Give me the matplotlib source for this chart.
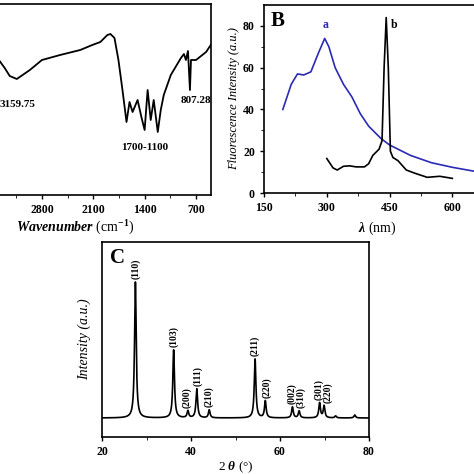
import numpy as np
import matplotlib
matplotlib.use("Agg")
import matplotlib.pyplot as plt

plt.rcParams['font.family'] = ['Liberation Serif', 'DejaVu Serif']
plt.rcParams['font.weight'] = 'bold'
plt.rcParams['mathtext.fontset'] = 'custom'
plt.rcParams['mathtext.rm'] = 'Liberation Serif:bold'
plt.rcParams['mathtext.bf'] = 'Liberation Serif:bold'
plt.rcParams['mathtext.it'] = 'Liberation Serif:italic:bold'

# Panel A: FTIR
ir_wn = [3377,3308,3239,3143,2965,2800,2553,2278,2114,2004,1908,1866,1811,1757,1702,1647,1606,1564,1496,1441,1400,1359,1317,1276,1221,1180,1139,1043,905,864,837,809,782,768,699,562,480]
ir_t = [139,132,124,121,130,140,145,150,155,158,165,166,162,140,110,78,98,88,100,82,70,110,80,100,68,90,105,125,142,146,140,149,110,140,140,148,157]

# Panel B: fluorescence
a_x = [195,215,230,245,262,280,295,305,320,340,360,380,400,430,450,500,550,600,650]
a_y = [40,52,57,56.5,58,67,74,70,60,52,46,38,32,26,23,18,14.5,12.3,10.5]
b_x = [300,315,325,340,355,370,390,400,410,425,432,437,442,447,452,458,470,490,510,540,570,600]
b_y = [16.5,12,11,12.8,13,12.5,12.5,14,18,21,25,60,84,60,20,17,15.5,11,9.5,7.5,8,7]

# Panel C: XRD peaks
pk_pos = [27.5,36.1,39.3,41.3,44.1,54.4,56.7,62.8,64.3,68.9,69.9,72.5,76.8]
pk_h = [136,68,7,29,8,59,17,11,7,15,12,2,3]
pk_lab = ['(110)','(103)','(200)','(111)','(210)','(211)','(220)','(002)','(310)','(301)','(220)',None,None]
lab_x = [27.5,36.1,39.0,41.6,44.1,54.4,57.1,62.6,64.6,68.7,70.7,None,None]

W = 474.0
fig = plt.figure(figsize=(4.74,4.74), dpi=100)
def ax_px(l, t, r, b):
    return fig.add_axes([l/W, 1-b/W, (r-l)/W, (b-t)/W])

axA = ax_px(-60, 4, 211, 195)
axA.plot(ir_wn, ir_t, color='black', lw=1.3)
axA.set_xlim(4190, 495)
axA.set_ylim(5, 196)
axA.set_xticks([2800,2100,1400,700])
axA.set_xticks([3150,2450,1750,1050], minor=True)
axA.set_yticks([])
axA.set_xlabel('$\\mathit{Wavenumber}$ (cm$^{-1}$)', fontsize=10, labelpad=2)
axA.text(3130, 95, '3159.75', fontsize=8, ha='center', va='center')
axA.text(1400, 53, '1700-1100', fontsize=8, ha='center', va='center')
axA.text(700, 99, '807.28', fontsize=8, ha='center', va='center')

axB = ax_px(264, 5, 490, 193)
axB.plot(a_x, a_y, color='#2a2ab4', lw=1.2)
axB.plot(b_x, b_y, color='black', lw=1.2)
axB.set_xlim(150, 690)
axB.set_ylim(0, 90)
axB.set_xticks([150,300,450,600])
axB.set_xticks([225,375,525], minor=True)
axB.set_yticks([0,20,40,60,80])
axB.set_yticks([10,30,50,70], minor=True)
axB.set_ylabel('Fluorescence Intensity (a.u.)', fontsize=9, style='italic', labelpad=2)
axB.set_xlabel('$\\mathit{\\lambda}$ (nm)', fontsize=10, labelpad=4)
axB.text(0.03, 0.97, 'B', transform=axB.transAxes, fontsize=15, ha='left', va='top')
axB.text(297, 79, 'a', color='#2a2ab4', fontsize=8.5, ha='center')
axB.text(462, 79, 'b', color='black', fontsize=8.5, ha='center')

axC = ax_px(102, 242, 369, 437)
x = np.linspace(20, 80, 3000)
y = np.zeros_like(x)
for p, h in zip(pk_pos, pk_h):
    y += h / (1 + ((x - p) / 0.22) ** 2)
axC.plot(x, y, color='black', lw=1.2)
axC.set_xlim(20, 80)
axC.set_ylim(-19, 176)
axC.set_xticks([20,40,60,80])
axC.set_xticks([30,50,70], minor=True)
axC.set_yticks([])
for lx, h, lab in zip(lab_x, pk_h, pk_lab):
    if lab:
        axC.text(lx, h + 3, lab, rotation=90, fontsize=7, ha='center', va='bottom')
axC.text(0.03, 0.97, 'C', transform=axC.transAxes, fontsize=15, ha='left', va='top')
axC.set_ylabel('Intensity (a.u.)', fontsize=10, style='italic', labelpad=8)
axC.set_xlabel('2 $\\mathit{\\theta}$ (°)', fontsize=9.5, labelpad=1)

for ax in (axA, axB, axC):
    for s in ax.spines.values():
        s.set_linewidth(1.2)
    ax.tick_params(direction='out', labelsize=8.5, width=1, length=3)
    ax.tick_params(which='minor', direction='out', length=2)
    for lbl in ax.get_xticklabels() + ax.get_yticklabels():
        lbl.set_fontweight('bold')

fig.savefig('out.png', dpi=100)
